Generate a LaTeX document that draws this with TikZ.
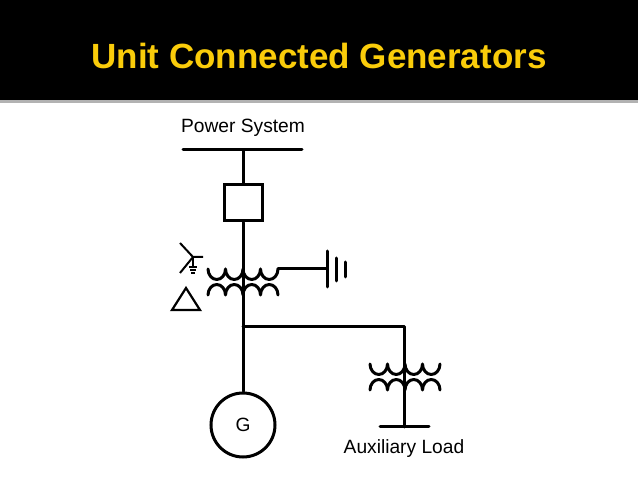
\documentclass[tikz,border=0pt]{standalone}
\usepackage{fontspec}
\setmainfont{Liberation Sans}
\definecolor{titleyellow}{RGB}{250,204,10}
\tikzset{
  wire/.style={line width=3pt, line cap=round, line join=round},
  lbl/.style={font=\fontsize{19.2}{21}\selectfont, inner sep=0pt},
}
% one winding of four turns, (#1,#2) left end, #3 = -1 cup / 1 cap
\newcommand{\winding}[3]{%
  \draw[wire] (#1,#2) \foreach \k in {1,...,4}{ arc[start angle=180, end angle=360, x radius=8.75, y radius=#3*10.5] };}
\begin{document}
\begin{tikzpicture}[x=1pt,y=-1pt]
\useasboundingbox (0,0) rectangle (638,478);
\fill[black] (0,0) rectangle (638,100);
\fill[gray!60] (0,100) rectangle (638,103);
\node[font=\fontsize{35}{38}\selectfont\bfseries, text=titleyellow] (title) at (319,56) {Unit Connected Generators};
% main line
\node[lbl] (ps) at (243,128) {Power System};
\coordinate (busL) at (183,150);
\coordinate (busR) at (302,150);
\coordinate (busT) at (243,150);
\draw[wire] (busL) -- (busR);
\node[draw, line width=3pt, minimum width=38pt, minimum height=36pt, inner sep=0pt] (cb) at (243,203) {};
\draw[wire] (busT) -- (cb.north);
\node[draw, circle, line width=3pt, minimum size=64pt, inner sep=0pt, font=\fontsize{19.2}{21}\selectfont] (gen) at (243,425) {G};
\draw[wire] (cb.south) -- (gen.north);
% unit transformer
\winding{208}{269}{-1}
\winding{208}{295}{1}
\coordinate (tr) at (278,269);
\coordinate (gnd) at (327,269);
\draw[wire] (tr) -- (gnd);
\draw[wire] (327,251) -- (327,287);
\draw[wire] (336,258) -- (336,281);
\draw[wire] (345,262) -- (345,277);
% wye and delta
\coordinate (wy) at (193,257);
\draw[line width=2pt] (180,243) -- (wy) -- (203,257) (wy) -- (180,273);
\draw[line width=1.4pt] (wy) -- (193,267) (189,267) -- (197,267) (190,270) -- (196,270) (191,273) -- (195,273);
\draw[line width=2.2pt, line join=miter] (172,310) -- (200,310) -- (186,288) -- cycle;
% auxiliary branch
\coordinate (tap) at (243,327);
\coordinate (corner) at (404,327);
\coordinate (load) at (404,427);
\draw[wire] (tap) -- (corner) -- (load);
\winding{370}{364}{-1}
\winding{370}{390}{1}
\draw[wire] (380,427) -- (429,427);
\node[lbl] (aux) at (404,449) {Auxiliary Load};
\end{tikzpicture}
\end{document}
